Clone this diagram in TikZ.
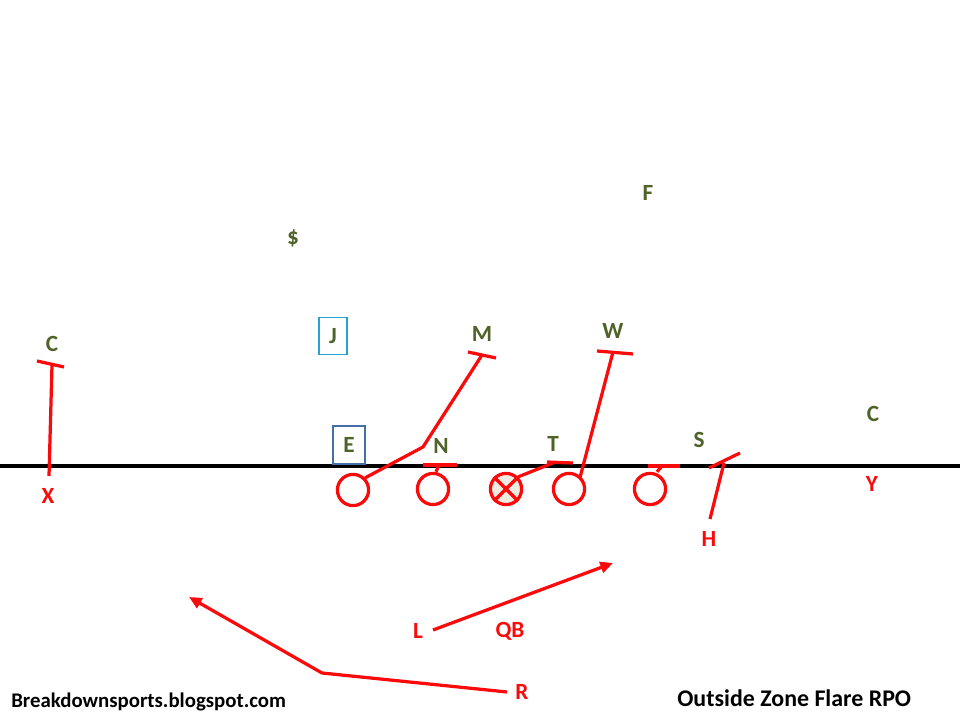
\documentclass[tikz,border=0pt]{standalone}
\usepackage{fontspec}
\setmainfont{Carlito}
\usetikzlibrary{arrows.meta}
\definecolor{defgreen}{RGB}{79,98,40}
\definecolor{offred}{RGB}{250,10,10}
\definecolor{jblue}{RGB}{40,160,210}
\definecolor{eblue}{RGB}{70,110,170}
\definecolor{ballgray}{RGB}{238,236,225}
\tikzset{
  defender/.style={text=defgreen, font=\bfseries\fontsize{16.5}{19}\selectfont, inner sep=0pt},
  player/.style={text=offred, font=\bfseries\fontsize{16.5}{19}\selectfont, inner sep=0pt},
  lineman/.style={circle, draw=offred, line width=2.3pt, minimum size=0.78cm, inner sep=0pt},
  route/.style={draw=offred, line width=2.3pt},
  credit/.style={font=\bfseries\fontsize{14.8}{18}\selectfont, inner sep=0pt, anchor=west}
}
\begin{document}
\begin{tikzpicture}[x=0.025cm, y=-0.025cm]
    \useasboundingbox (0,0) rectangle (960,720);
    % line of scrimmage
    \coordinate (los_l) at (0,466);
    \coordinate (los_r) at (960,466);
    \draw[line width=2.3pt] (los_l) -- (los_r);

    % defense
    \node[defender] (c1) at (52,344) {C};
    \node[defender] (dollar) at (293,238) {\$};
    \node[defender, draw=jblue, line width=1pt, minimum width=0.7cm, minimum height=0.92cm] (j) at (333,336) {J};
    \node[defender] (m) at (482,334) {M};
    \node[defender] (w) at (613,331) {W};
    \node[defender] (f) at (648,193) {F};
    \node[defender, draw=eblue, line width=1pt, minimum width=0.8cm, minimum height=0.95cm] (e) at (349,445) {E};
    \node[defender] (n) at (441,446) {N};
    \node[defender] (t) at (553,444) {T};
    \node[defender] (s) at (699,440) {S};
    \node[defender] (c2) at (873,414) {C};

    % offense
    \node[player] (x) at (48,496) {X};
    \node[player] (y) at (872,484) {Y};
    \node[player] (h) at (709,539) {H};
    \node[player] (l) at (418,631) {L};
    \node[player] (qb) at (510,631) {QB};
    \node[player] (r) at (522,692) {R};
    \node[lineman] (lt) at (353,490) {};
    \node[lineman] (lg) at (433,489) {};
    \node[lineman, fill=ballgray] (ctr) at (506,489) {};
    \node[lineman] (rg) at (569,489) {};
    \node[lineman] (rt) at (650,489) {};
    \draw[route] (ctr.north east) -- (ctr.south west);
    \draw[route] (ctr.north west) -- (ctr.south east);

    % routes and blocks
    \coordinate (x_end) at (52,365);
    \coordinate (x_bl) at (37,361);
    \coordinate (x_br) at (64,367);
    \draw[route] (49,476) -- (x_end);
    \draw[route] (x_bl) -- (x_br);

    \coordinate (lt_bend) at (423,447);
    \coordinate (lt_end) at (482,355);
    \coordinate (m_bl) at (468,352);
    \coordinate (m_br) at (496,358);
    \draw[route] (lt.north east) -- (lt_bend) -- (lt_end);
    \draw[route] (m_bl) -- (m_br);

    \coordinate (lg_end) at (439,465);
    \coordinate (n_bl) at (423,465);
    \coordinate (n_br) at (457,465);
    \draw[route] (lg.north) ++(3,0) -- (lg_end);
    \draw[route] (n_bl) -- (n_br);

    \coordinate (ctr_end) at (553,463);
    \coordinate (t_bl) at (547,462);
    \coordinate (t_br) at (573,463);
    \draw[route] (ctr.north east) -- (ctr_end);
    \draw[route] (t_bl) -- (t_br);

    \coordinate (rg_end) at (613,352);
    \coordinate (w_bl) at (597,351);
    \coordinate (w_br) at (633,354);
    \draw[route] (rg.north east) ++(-1,0) -- (rg_end);
    \draw[route] (w_bl) -- (w_br);

    \coordinate (rt_end) at (662,466);
    \coordinate (s_bl) at (648,466);
    \coordinate (s_br) at (680,466);
    \draw[route] (rt.north) ++(7,0) -- (rt_end);
    \draw[route] (s_bl) -- (s_br);

    \coordinate (h_start) at (710,519);
    \coordinate (h_end) at (724,463);
    \coordinate (h_bl) at (709,468);
    \coordinate (h_br) at (740,453);
    \draw[route] (h_start) -- (h_end);
    \draw[route] (h_bl) -- (h_br);

    \coordinate (l_start) at (433,630);
    \coordinate (l_end) at (613,563);
    \draw[route, -{Triangle[length=9pt, width=8pt]}] (l_start) -- (l_end);

    \coordinate (r_start) at (507,692);
    \coordinate (r_bend) at (322,673);
    \coordinate (r_end) at (189,597);
    \draw[route, -{Triangle[length=9pt, width=8pt]}] (r_start) -- (r_bend) -- (r_end);

    % credits
    \node[credit] (blog) at (11,702) {Breakdownsports.blogspot.com};
    \node[credit, font=\bfseries\fontsize{17}{20}\selectfont] (title) at (677,698) {Outside Zone Flare RPO};
\end{tikzpicture}
\end{document}
